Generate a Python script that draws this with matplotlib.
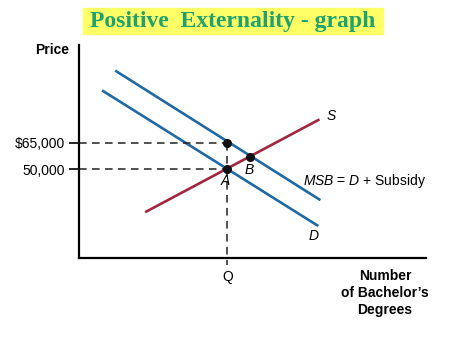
import matplotlib
matplotlib.use("Agg")
import matplotlib.pyplot as plt
from matplotlib.patches import Rectangle

plt.rcParams['font.family'] = ['Liberation Sans', 'DejaVu Sans']
plt.rcParams['mathtext.fontset'] = 'custom'
plt.rcParams['mathtext.it'] = 'Liberation Sans:italic'
plt.rcParams['mathtext.rm'] = 'Liberation Sans'

# quantity (arbitrary units) and price (thousands of $)
msb_x = [12.2, 81.4]
msb_y = [105.6, 32.6]
d_x = [7.8, 80.7]
d_y = [94.4, 18.0]
s_x = [22.3, 81.1]
s_y = [25.8, 78.1]

q_val = 50
p_high = 65
p_low = 50
b_point = (57.8, 57.0)

ytick_vals = [p_low, p_high]
ytick_labels = ["50,000", "$65,000"]

blue = '#1f6aa5'
red = '#a3263f'

fig = plt.figure(figsize=(4.74, 3.55), dpi=100)

# title with yellow box
fig.add_artist(Rectangle((83 / 474, 1 - 34 / 355), 300 / 474, 26 / 355,
                         transform=fig.transFigure, color='#ffff66', zorder=0))
fig.text(233 / 474, 1 - 21.5 / 355, "Positive  Externality - graph",
         family='Liberation Serif', weight='bold', fontsize=17,
         color='#1fa36e', ha='center', va='center')

ax = fig.add_axes([79 / 474, 1 - 258 / 355, 347 / 474, 213 / 355])
ax.set_xlim(0, 117)
ax.set_ylim(0, 120)
for side in ['top', 'right']:
    ax.spines[side].set_visible(False)
for side in ['left', 'bottom']:
    ax.spines[side].set_linewidth(1.6)

ax.plot(msb_x, msb_y, color=blue, lw=1.9, solid_capstyle='butt')
ax.plot(d_x, d_y, color=blue, lw=1.9, solid_capstyle='butt')
ax.plot(s_x, s_y, color=red, lw=1.9, solid_capstyle='butt')

dash = dict(color='#222222', lw=1.1, dashes=(5, 3.5))
ax.plot([0, q_val], [p_high, p_high], **dash)
ax.plot([0, q_val], [p_low, p_low], **dash)
ax.plot([q_val, q_val], [p_high, -4], clip_on=False, **dash)

ax.plot([q_val, q_val, b_point[0]], [p_high, p_low, b_point[1]], 'o',
        color='#111111', ms=5.5, zorder=5)

ax.set_yticks(ytick_vals)
ax.set_yticklabels(ytick_labels, fontsize=10)
ax.set_xticks([q_val])
ax.set_xticklabels(["Q"], fontsize=10)
ax.tick_params(axis='y', length=7, width=1.2, pad=3)
ax.tick_params(axis='x', length=0, pad=9)

ax.text(-9.1, 117, "Price", weight='bold', fontsize=10, ha='center',
        va='center', clip_on=False)
ax.text(103.2, -19.7, "Number\nof Bachelor\u2019s\nDegrees", weight='bold',
        fontsize=10, ha='center', va='center', linespacing=1.25,
        clip_on=False)

ax.text(83.5, 80, "S", style='italic', fontsize=10, ha='left', va='center')
ax.text(57.5, 49.5, "B", style='italic', fontsize=10, ha='center', va='center')
ax.text(49.2, 43.5, "A", style='italic', fontsize=10, ha='center', va='center')
ax.text(79.0, 12.5, "D", style='italic', fontsize=10, ha='center', va='center')
ax.text(75.5, 43.5, r"$MSB$ = $D$ + Subsidy", fontsize=10, ha='left',
        va='center')

fig.savefig("out.png", dpi=100)
